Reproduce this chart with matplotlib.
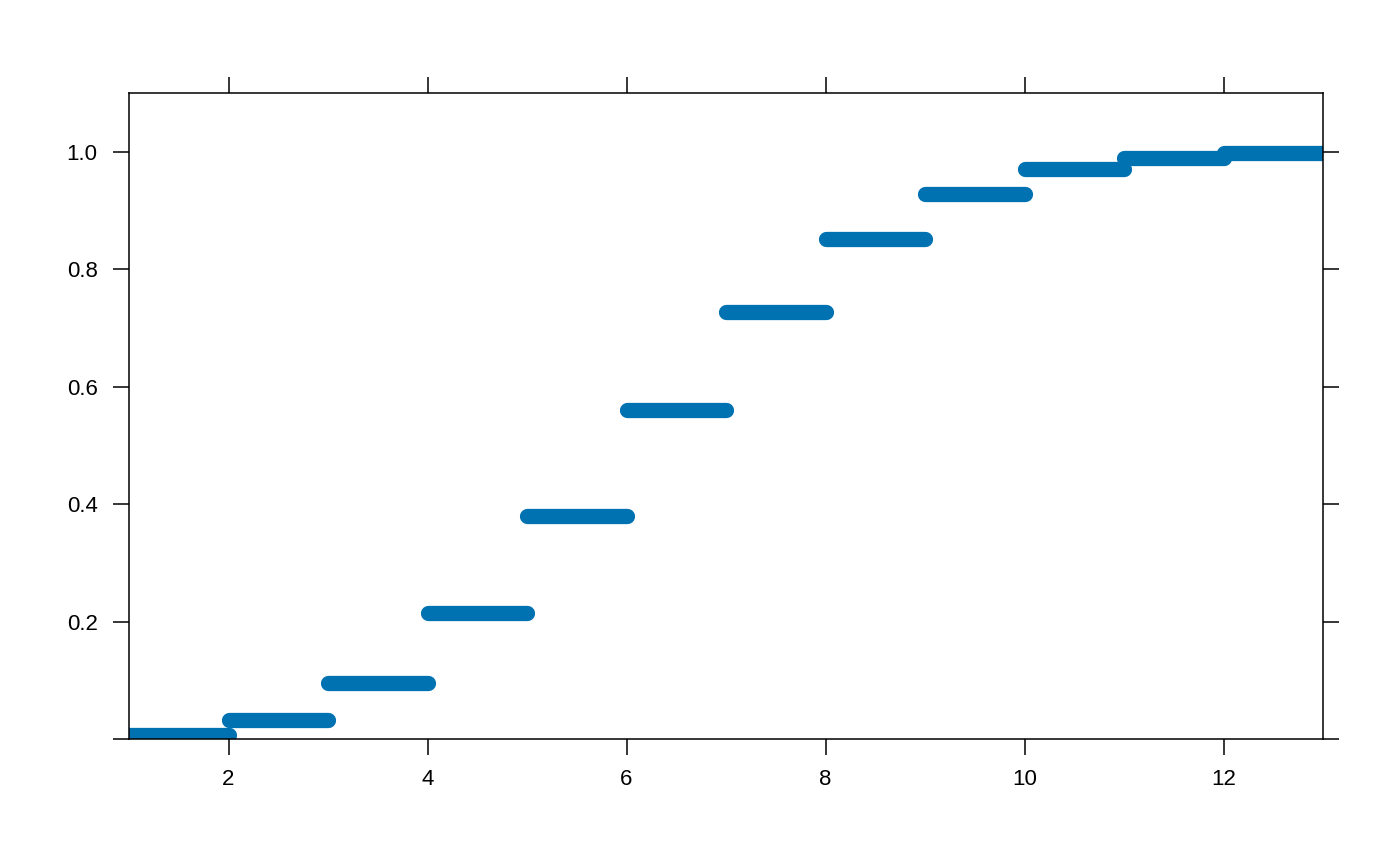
import numpy as np
import matplotlib.pyplot as plt

plt.rcParams['font.family'] = ['Liberation Sans', 'DejaVu Sans']

# step values of the cumulative curve, one per unit interval [k, k+1)
x_start = [1, 2, 3, 4, 5, 6, 7, 8, 9, 10, 11, 12]
cum_prob = [0.0065, 0.032, 0.096, 0.214, 0.379, 0.561, 0.727, 0.851, 0.928, 0.970, 0.989, 0.997]
x_ticks = [2, 4, 6, 8, 10, 12]
y_ticks = [0.0, 0.2, 0.4, 0.6, 0.8, 1.0]
y_labels = ['', '0.2', '0.4', '0.6', '0.8', '1.0']

fig = plt.figure(figsize=(14, 8.66), dpi=100)
ax = fig.add_axes([129 / 1400, 1 - 739 / 866, (1323 - 129) / 1400, (739 - 93) / 866])

for x0, p in zip(x_start, cum_prob):
    ax.plot([x0, x0 + 1], [p, p], color='#0072B2', lw=11, solid_capstyle='round')

ax.set_xlim(1, 13)
ax.set_ylim(0, 1.1)
ax.set_xticks(x_ticks)
ax.set_yticks(y_ticks)
ax.set_yticklabels(y_labels)

for s in ax.spines.values():
    s.set_linewidth(1.1)
ax.tick_params(axis='both', direction='out', length=11.5, width=1.1, labelsize=16,
               top=True, right=True, labeltop=False, labelright=False)
ax.tick_params(axis='x', pad=10)
ax.tick_params(axis='y', pad=11)

plt.savefig('out.png', dpi=100)
